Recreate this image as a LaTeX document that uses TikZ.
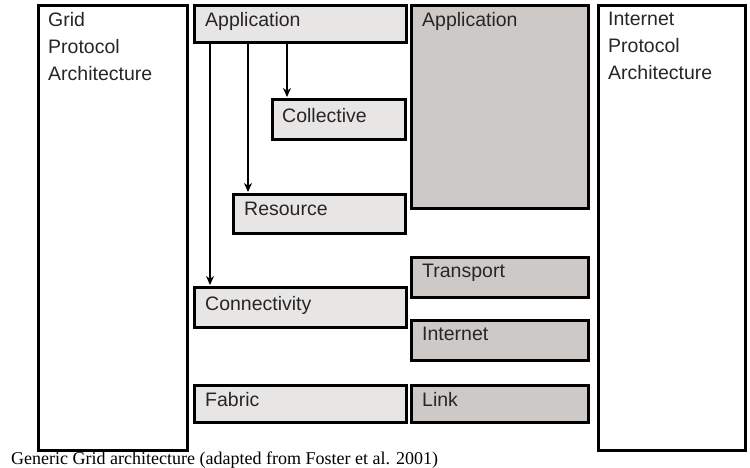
\documentclass[tikz,border=0pt]{standalone}
\usepackage{fontspec}
\usetikzlibrary{arrows.meta}
\setmainfont{Liberation Sans}
\newfontfamily\capfont{Liberation Serif}
\begin{document}
\begin{tikzpicture}[x=1pt,y=-1pt,
  lbox/.style={draw=black,line width=3pt,fill=lite},
  dbox/.style={draw=black,line width=3pt,fill=dark},
  wbox/.style={draw=black,line width=3pt,fill=white},
  lab/.style={anchor=north west,inner sep=0pt,font=\fontsize{19.5}{27}\selectfont,text=black!85,align=left},
  arr/.style={-{Stealth[length=9pt,width=8pt]},line width=1.8pt}]
\definecolor{lite}{HTML}{E8E6E5}
\definecolor{dark}{HTML}{CDC9C7}
\useasboundingbox (0,0) rectangle (750,467);
\fill[white] (0,0) rectangle (750,467);
\draw[wbox] (38,5) rectangle (187,450);
\draw[wbox] (598,5) rectangle (745,450);
\node[lab] (gpa) at (48,12) {Grid\\Protocol\\Architecture};
\node[lab] (ipa) at (608,12) {Internet\\Protocol\\Architecture};
\draw[lbox] (194,5) rectangle (406,42); \node[lab] (app) at (205,12) {Application};
\draw[lbox] (272,99) rectangle (405,139); \node[lab] (col) at (282,108) {Collective};
\draw[lbox] (233,194) rectangle (405,233); \node[lab] (res) at (244,202) {Resource};
\draw[lbox] (194,287) rectangle (406,327); \node[lab] (con) at (205,296) {Connectivity};
\draw[lbox] (194,385) rectangle (406,422); \node[lab] (fab) at (205,392) {Fabric};
\draw[dbox] (411,5) rectangle (588,208); \node[lab] (app2) at (422,12) {Application};
\draw[dbox] (411,257) rectangle (588,297); \node[lab] (tra) at (422,264) {Transport};
\draw[dbox] (411,320) rectangle (588,360); \node[lab] (int) at (422,327) {Internet};
\draw[dbox] (411,385) rectangle (588,422); \node[lab] (lnk) at (422,392) {Link};
\coordinate (a1) at (210,44); \coordinate (b1) at (210,285);
\coordinate (a2) at (248,44); \coordinate (b2) at (248,192);
\coordinate (a3) at (287,44); \coordinate (b3) at (287,97);
\draw[arr] (a1) -- (b1);
\draw[arr] (a2) -- (b2);
\draw[arr] (a3) -- (b3);
\node[anchor=west,inner sep=0pt,font=\capfont\fontsize{18}{20}\selectfont] (cap) at (11,460) {Generic Grid architecture (adapted from Foster et al. 2001)};
\end{tikzpicture}
\end{document}
